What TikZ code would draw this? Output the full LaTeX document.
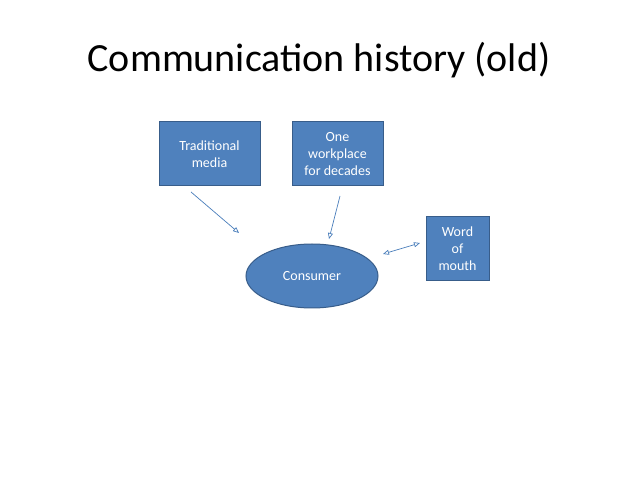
\documentclass[tikz,border=0pt]{standalone}
\usepackage{fontspec}
\setmainfont{Carlito}
\usetikzlibrary{shapes.geometric,arrows.meta}
\definecolor{boxfill}{HTML}{4F81BD}
\definecolor{boxline}{HTML}{385D8A}
\definecolor{arr}{HTML}{4A7EBB}
\begin{document}
\begin{tikzpicture}[x=1pt,y=-1pt,
  bx/.style={draw=boxline,fill=boxfill,line width=1pt,text=white,font=\fontsize{14}{17}\selectfont,align=center,inner sep=0pt},
  con/.style={draw=arr,line width=0.7pt,-{Stealth[length=6pt,width=5pt,inset=0pt,open]}}]
\useasboundingbox (0,0) rectangle (638,478);
\node[font=\fontsize{40}{48}\selectfont] (title) at (319,60) {Communication history (old)};
\node[bx,minimum width=101pt,minimum height=64pt] (trad) at (209.5,154) {Traditional\\media};
\node[bx,minimum width=91pt,minimum height=64pt] (work) at (337.5,154) {One\\workplace\\for decades};
\node[bx,minimum width=63pt,minimum height=64pt] (word) at (457.5,249) {Word\\of\\mouth};
\node[bx,ellipse,minimum width=132pt,minimum height=64pt] (cons) at (312,276) {Consumer};
\coordinate (a1) at (191,192); \coordinate (a2) at (239,233);
\coordinate (b1) at (340,196); \coordinate (b2) at (329,239);
\coordinate (c1) at (383,254); \coordinate (c2) at (420,243);
\draw[con] (a1) -- (a2);
\draw[con] (b1) -- (b2);
\draw[con,{Stealth[length=6pt,width=5pt,inset=0pt,open]}-{Stealth[length=6pt,width=5pt,inset=0pt,open]}] (c1) -- (c2);
\end{tikzpicture}
\end{document}
